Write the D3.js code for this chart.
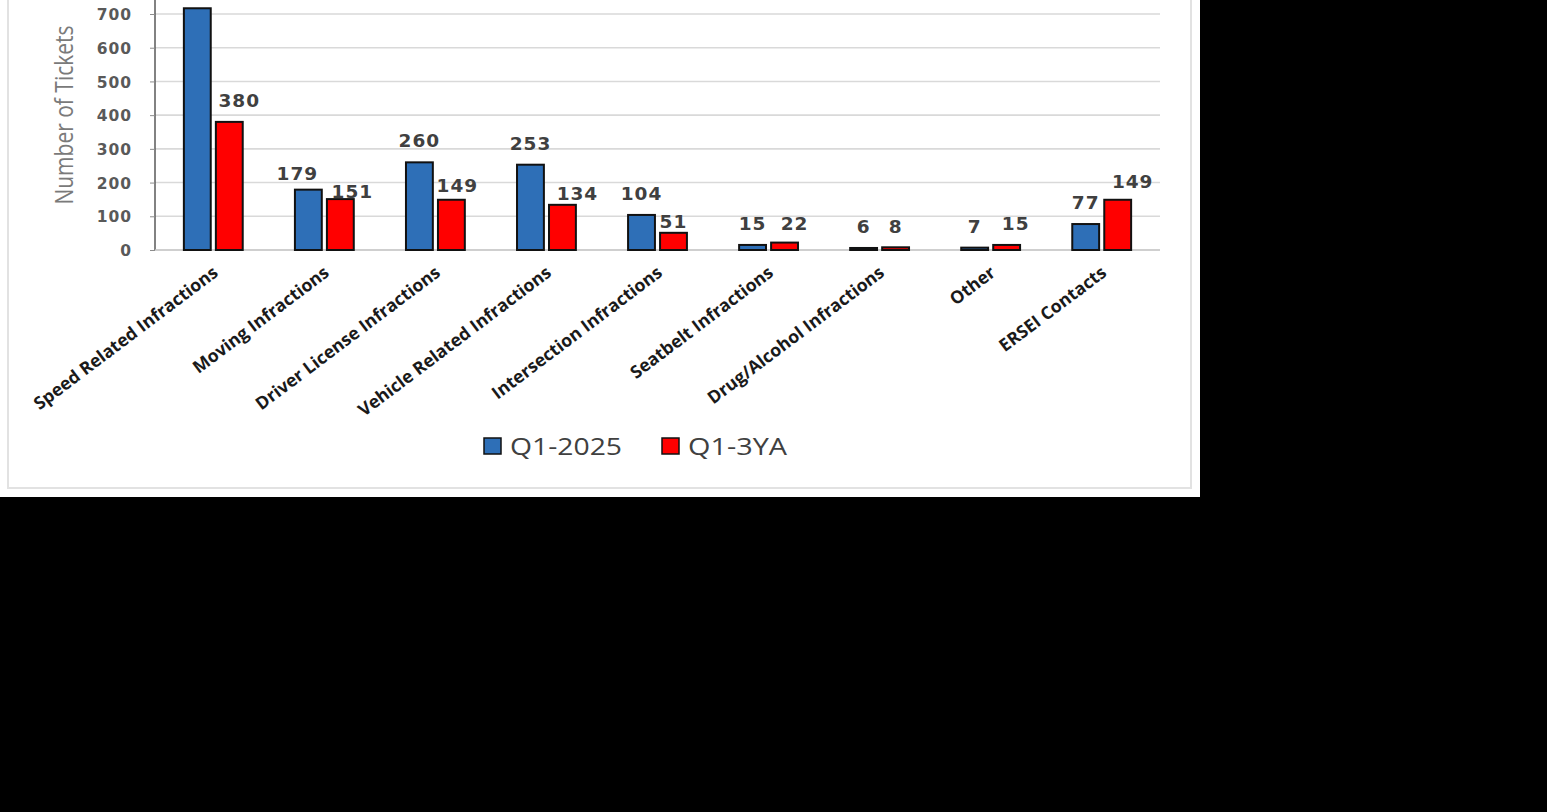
<!DOCTYPE html>
<html>
<head>
<meta charset="utf-8">
<script src="https://cdn.jsdelivr.net/npm/d3@7"></script>
<style>
  html, body { margin: 0; padding: 0; background: #000; }
  svg { display: block; }
</style>
</head>
<body>
<svg id="chart" width="1547" height="812"></svg>
<script>
// ---- data ----
const categories = [
  "Speed Related Infractions", "Moving Infractions", "Driver License Infractions",
  "Vehicle Related Infractions", "Intersection Infractions", "Seatbelt Infractions",
  "Drug/Alcohol Infractions", "Other", "ERSEI Contacts"
];
const seriesNames = ["Q1-2025", "Q1-3YA"];
const q1_2025 = [717, 179, 260, 253, 104, 15, 6, 7, 77];
const q1_3ya  = [380, 151, 149, 134, 51, 22, 8, 15, 149];
const yTicks = [0, 100, 200, 300, 400, 500, 600, 700];

// ---- layout / style ----
const colors = ["#2E6FB7", "#FF0000"];
// manual label nudges (as in the original Excel chart)
const labelNudgeX = [[0, -11, 0, 0, 0, 0, 0, 0, 0], [10, 12, 6, 15, 0, 10, 0, 9, 15]];
const labelNudgeY = [[0, 5, 0, 0, 0, 0, 0, 0, 0], [0, 14, 7, 10, 10, 2, 1, 0, 3]];

const svg = d3.select("#chart");
// white panel
svg.append("rect").attr("x", 0).attr("y", 0).attr("width", 1200).attr("height", 497).attr("fill", "#fff");
svg.append("rect").attr("x", 8).attr("y", -10).attr("width", 1183).attr("height", 498)
  .attr("fill", "none").attr("stroke", "#e2e2e2").attr("stroke-width", 2);

const left = 155, right = 1160, zeroY = 250;
const y = d3.scaleLinear().domain([0, 700]).range([zeroY, 14]);
const x0 = d3.scaleBand().domain(categories).range([left, right]).paddingInner(0.47).paddingOuter(0.26);
const x1 = d3.scaleBand().domain(seriesNames).range([0, x0.bandwidth()]).paddingInner(0.16);

const g = svg.append("g");

// gridlines
g.append("g").selectAll("line").data(yTicks.filter(d => d > 0)).join("line")
  .attr("x1", left).attr("x2", right)
  .attr("y1", d => y(d)).attr("y2", d => y(d))
  .attr("stroke", "#d9d9d9").attr("stroke-width", 1.6);

// y axis
const yAxis = d3.axisLeft(y).tickValues(yTicks).tickSize(5).tickPadding(18);
const ya = g.append("g").attr("transform", `translate(${left},0)`).call(yAxis);
ya.select(".domain").attr("stroke", "#595959").attr("stroke-width", 1.5)
  .attr("d", `M-5,${y(700) - 20}H0V${zeroY}`);
ya.selectAll(".tick line").attr("stroke", "#8c8c8c");
ya.selectAll(".tick text")
  .attr("fill", "#595959").attr("font-family", "DejaVu Sans").attr("font-weight", "bold")
  .attr("font-size", 15.5).attr("letter-spacing", 1).attr("dy", "0.36em");

// x baseline
g.append("line").attr("x1", left).attr("x2", right).attr("y1", zeroY).attr("y2", zeroY)
  .attr("stroke", "#bfbfbf").attr("stroke-width", 1.6);

// bars
const series = [q1_2025, q1_3ya];
series.forEach((vals, si) => {
  const sg = g.append("g");
  sg.selectAll("rect").data(vals).join("rect")
    .attr("x", (d, i) => x0(categories[i]) + x1(seriesNames[si]))
    .attr("y", d => y(d))
    .attr("width", x1.bandwidth())
    .attr("height", d => Math.max(0, zeroY - y(d)))
    .attr("fill", colors[si])
    .attr("stroke", "#111").attr("stroke-width", 2);
  // labels that would fall above the cropped top edge are not visible in the original
  const lab = vals.map((d, i) => ({ d, i })).filter(o => y(o.d) - 15 + labelNudgeY[si][o.i] > 16);
  sg.selectAll("text").data(lab).join("text")
    .attr("x", o => x0(categories[o.i]) + x1(seriesNames[si]) + x1.bandwidth() / 2 + labelNudgeX[si][o.i])
    .attr("y", o => y(o.d) - 15 + labelNudgeY[si][o.i])
    .attr("text-anchor", "middle")
    .attr("font-family", "DejaVu Sans").attr("font-weight", "bold").attr("font-size", 18.5)
    .attr("letter-spacing", 1)
    .attr("fill", "#404040")
    .text(o => o.d);
});

// category labels
g.append("g").selectAll("text").data(categories).join("text")
  .attr("transform", d => `translate(${x0(d) + x0.bandwidth() / 2 + 6},${zeroY + 25}) rotate(-37)`)
  .attr("text-anchor", "end")
  .attr("font-family", "Open Sans").attr("font-weight", "bold").attr("font-size", 17.6)
  .attr("fill", "#1a1a1a")
  .text(d => d);

// y axis title
svg.append("text")
  .attr("transform", `translate(73,115) rotate(-90) scale(0.84,1)`)
  .attr("text-anchor", "middle")
  .attr("font-family", "Open Sans").attr("font-size", 25)
  .attr("fill", "#7a7a7a")
  .text("Number of Tickets");

// legend
const legendItems = [
  { name: seriesNames[0], color: colors[0], x: 484, len: 112 },
  { name: seriesNames[1], color: colors[1], x: 662, len: 99 }
];
const lg = svg.append("g");
legendItems.forEach(it => {
  lg.append("rect").attr("x", it.x).attr("y", 438).attr("width", 17).attr("height", 16)
    .attr("fill", it.color).attr("stroke", "#111").attr("stroke-width", 1.5);
  lg.append("text").attr("x", it.x + 26).attr("y", 455)
    .attr("font-family", "Open Sans").attr("font-size", 23)
    .attr("textLength", it.len).attr("lengthAdjust", "spacingAndGlyphs")
    .attr("fill", "#404040").text(it.name);
});
</script>
</body>
</html>
